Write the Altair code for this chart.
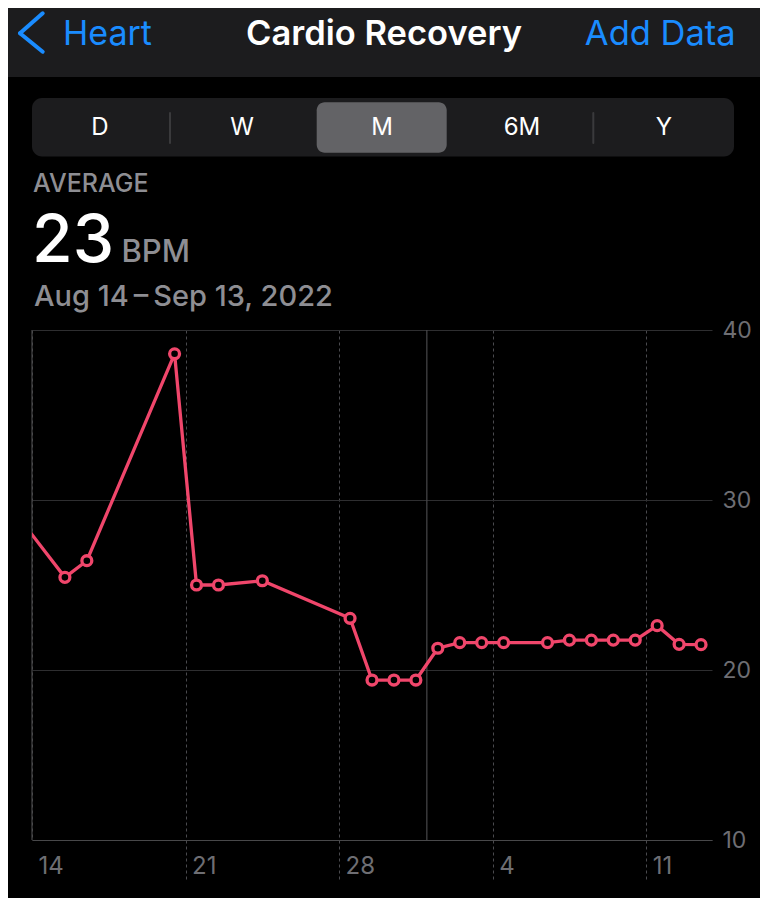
import altair as alt
import pandas as pd

# ---------------- data ----------------
days = ["2022-08-13", "2022-08-15", "2022-08-16", "2022-08-20", "2022-08-21",
        "2022-08-22", "2022-08-24", "2022-08-28", "2022-08-29", "2022-08-30",
        "2022-08-31", "2022-09-01", "2022-09-02", "2022-09-03", "2022-09-04",
        "2022-09-06", "2022-09-07", "2022-09-08", "2022-09-09", "2022-09-10",
        "2022-09-11", "2022-09-12", "2022-09-13"]
bpm = [28.8, 25.45, 26.43, 38.6, 25.0,
       25.0, 25.25, 23.04, 19.41, 19.41,
       19.41, 21.28, 21.61, 21.61, 21.61,
       21.61, 21.76, 21.76, 21.76, 21.76,
       22.61, 21.51, 21.49]
y_ticks = [10, 20, 30, 40]
week_ticks = [(8, 14), (8, 21), (8, 28), (9, 4), (9, 11)]
solid_lines = ["2022-08-14T00:00:00", "2022-09-01T00:00:00"]

back_label = "Heart"
title_text = "Cardio Recovery"
action_text = "Add Data"
segments = ["D", "W", "M", "6M", "Y"]
avg_label = "AVERAGE"
avg_value = "23"
avg_unit = "BPM"
range_text = "Aug 14\u2009\u2013\u2009Sep 13, 2022"

PINK = "#f0466b"
BLUE = "#1a8cff"
GRAY = "#8e8e93"
FONT = "Inter"

df = pd.DataFrame({"day": [d + "T12:00:00" for d in days], "bpm": bpm})
rules_df = pd.DataFrame({"day": solid_lines})
one = pd.DataFrame({"k": [0]})

x_scale = alt.Scale(domain=[alt.DateTime(year=2022, month=8, date=14),
                            alt.DateTime(year=2022, month=9, date=14)])
y_scale = alt.Scale(domain=[10, 40])

x_axis = alt.Axis(
    values=[alt.DateTime(year=2022, month=m, date=d) for m, d in week_ticks],
    format="%-d", title=None,
    grid=True, gridColor="#4a4a4e", gridDash=[3, 3], gridWidth=1,
    ticks=True, tickSize=40, tickColor="#4a4a4e", tickDash=[3, 3], tickWidth=1,
    tickOpacity={"condition": {"test": "date(datum.value) == 14", "value": 0}, "value": 1},
    domain=True, domainColor="#48484a", domainWidth=1.2,
    labelAlign="left", labelBaseline="middle", labelPadding=-14, labelOffset=6,
    labelColor="#6e6e73", labelFontSize=24, labelFont=FONT, labelFlush=False,
    labelOverlap=False,
)
y_axis = alt.Axis(
    values=y_ticks, orient="right", title=None,
    grid=True, gridColor="#2e2e30", gridWidth=1.2,
    ticks=False, domain=False,
    labelPadding=10, labelColor="#6e6e73", labelFontSize=23, labelFont=FONT,
    labelBaseline="middle",
)

line = alt.Chart(df).mark_line(color=PINK, strokeWidth=3.3, clip=True).encode(
    x=alt.X("day:T", scale=x_scale, axis=x_axis),
    y=alt.Y("bpm:Q", scale=y_scale, axis=y_axis),
)
points = alt.Chart(df).mark_point(
    shape="circle", filled=True, fill="#000000", stroke=PINK, strokeWidth=3.3,
    size=98, opacity=1, clip=True,
).encode(x="day:T", y="bpm:Q")

edges = alt.Chart(rules_df).mark_rule(color="#48484a", strokeWidth=1.2).encode(
    x="day:T"
)


def rect(x1, x2, y1, y2, color, radius=0):
    return alt.Chart(one).mark_rect(color=color, cornerRadius=radius).encode(
        x=alt.value(x1), x2=alt.value(x2), y=alt.value(y1), y2=alt.value(y2))


def seg(x1, y1, x2, y2, color, width):
    return alt.Chart(one).mark_rule(color=color, strokeWidth=width, strokeCap="round").encode(
        x=alt.value(x1), x2=alt.value(x2), y=alt.value(y1), y2=alt.value(y2))


def label(txt, x, y, size, color, weight=400, align="left", baseline="alphabetic"):
    return alt.Chart(one).mark_text(
        text=txt, font=FONT, fontSize=size, fontWeight=weight, color=color,
        align=align, baseline=baseline,
    ).encode(x=alt.value(x), y=alt.value(y))


header = [
    rect(-40, 760, -340, -253, "#1c1c1e"),
    seg(10.7, -316.7, -12, -296.7, BLUE, 4),
    seg(-12, -296.7, 10.7, -278.3, BLUE, 4),
    label(back_label, 31, -285, 34, BLUE),
    label(title_text, 352, -285, 34.5, "#ffffff", weight=600, align="center"),
    label(action_text, 703.7, -285, 34.5, BLUE, align="right"),
    rect(0, 702, -232, -173.5, "#1c1c1e", 10),
    rect(284.7, 414.7, -227.7, -177.3, "#636366", 8),
    seg(138, -217, 138, -187, "#3a3a3c", 2),
    seg(561.3, -217, 561.3, -187, "#3a3a3c", 2),
]
seg_x = [68, 210, 350, 490, 632]
for s, sx in zip(segments, seg_x):
    header.append(label(s, sx, -202, 24, "#ffffff", weight=400, align="center",
                        baseline="middle"))
header += [
    label(avg_label, 1, -138.3, 25, GRAY, weight=500),
    label(avg_value, 0, -68.3, 66, "#ffffff", weight=500),
    label(avg_unit, 89.5, -68.3, 31, GRAY, weight=500),
    label(range_text, 2, -24, 29, GRAY, weight=500),
]

chart = alt.layer(*header, edges, line, points).properties(
    width=680, height=510,
    autosize=alt.AutoSizeParams(type="none"),
    padding={"left": 24, "top": 322, "right": 48, "bottom": 58},
    background="#000000",
).configure_view(stroke=None)

chart.save("out.html", embed_options={"renderer": "svg", "actions": False})
